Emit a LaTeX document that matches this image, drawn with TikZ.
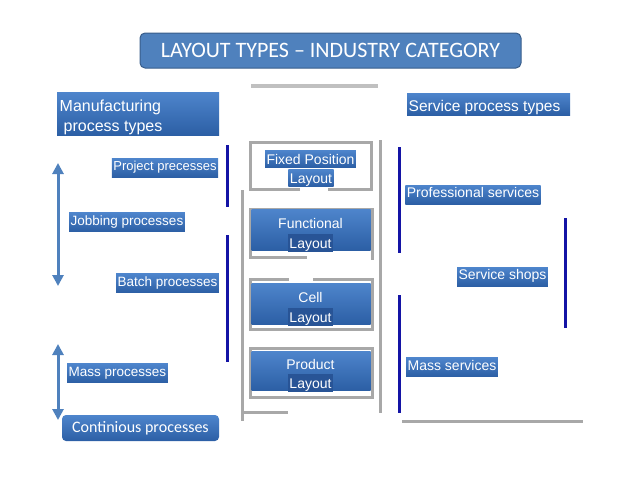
\documentclass[tikz,border=0pt]{standalone}
\usepackage{fontspec}
\setmainfont{Liberation Sans}
\newfontfamily\calibfont[Ligatures=TeX]{Carlito}
\usetikzlibrary{arrows.meta}
\definecolor{boxtop}{RGB}{78,133,204}
\definecolor{boxbot}{RGB}{44,95,165}
\definecolor{titleblue}{RGB}{79,129,189}
\definecolor{titleedge}{RGB}{56,93,138}
\definecolor{navy}{RGB}{20,20,165}
\definecolor{arrblue}{RGB}{79,129,189}
\definecolor{framegray}{RGB}{168,168,168}
\definecolor{linegray}{RGB}{192,192,192}
\definecolor{lay}{RGB}{40,84,150}
\begin{document}
\begin{tikzpicture}[x=1pt,y=-1pt,
  bluebox/.style={top color=boxtop,bottom color=boxbot,draw=none,inner sep=0pt},
  lab/.style={top color=boxtop,bottom color=boxbot,text=white,inner xsep=1.5pt,inner ysep=0pt,minimum height=19pt,text height=9.8pt,text depth=2.9pt,font=\fontsize{13.5}{15}\selectfont},
  ctext/.style={text=white,font=\fontsize{14}{16}\selectfont,inner sep=0pt,anchor=base},
  hl/.style={text=white,font=\fontsize{14}{16}\selectfont,inner xsep=1.5pt,inner ysep=2pt,text height=12pt,text depth=1.5pt,anchor=base},
  frame/.style={draw=framegray,line width=3pt},
  bar/.style={draw=navy,line width=3pt},
  dbl/.style={draw=arrblue,line width=3pt,{Triangle[width=11pt,length=11pt]}-{Triangle[width=11pt,length=11pt]}},
]
\useasboundingbox (0,0) rectangle (638,493);

% title
\node[fill=titleblue,draw=titleedge,line width=1pt,rounded corners=5pt,minimum width=381pt,minimum height=35pt,text=white,font=\calibfont\fontsize{22}{26}\selectfont,inner sep=0pt] (title) at (330.5,50.5) {LAYOUT TYPES \textendash{} INDUSTRY CATEGORY};
\draw[draw=linegray,line width=4pt] (251,86) -- (378,86);

% left header
\node[bluebox,minimum width=162pt,minimum height=43pt] (manuf) at (138,113.5) {};
\node[anchor=base west,text=white,font=\fontsize{16}{20}\selectfont,inner sep=0pt] (manuf1) at (59.5,111.5) {Manufacturing};
\node[anchor=base west,text=white,font=\fontsize{16}{20}\selectfont,inner sep=0pt] (manuf2) at (63.5,131.5) {process types};

% right header
\node[bluebox,minimum width=163pt,minimum height=22pt] (serv) at (488.5,104) {};
\node[anchor=base west,text=white,font=\fontsize{15.5}{18}\selectfont,inner sep=0pt] (servt) at (408.5,111.5) {Service process types};

% left labels
\node[lab,font=\fontsize{13}{15}\selectfont] (proj) at (165,167.5) {Project precesses};
\node[lab] (job) at (127,222) {Jobbing processes};
\node[lab] (batch) at (167.5,283) {Batch processes};
\node[lab] (mass) at (117.5,373) {Mass processes};
\node[top color=boxtop,bottom color=boxbot,rounded corners=4pt,minimum width=157pt,minimum height=26pt,text=white,font=\calibfont\fontsize{16}{19}\selectfont,inner sep=0pt] (cont) at (140.5,428) {Continious processes};

% right labels
\node[lab,font=\fontsize{14}{16}\selectfont] (prof) at (473,194.5) {Professional services};
\node[lab,font=\fontsize{14}{16}\selectfont] (shops) at (502.5,276.5) {Service shops};
\node[lab,font=\fontsize{14}{16}\selectfont] (mserv) at (452,367) {Mass services};

% arrows
\coordinate (a1t) at (58,163);
\coordinate (a1b) at (58,286);
\coordinate (a2t) at (58,344);
\coordinate (a2b) at (58,420);
\draw[dbl] (a1t) -- (a1b);
\draw[dbl] (a2t) -- (a2b);

% navy bars
\draw[bar] (227,145) -- (227,207);
\draw[bar] (227,235) -- (227,362);
\draw[bar] (399,147) -- (399,253);
\draw[bar] (399,295) -- (399,413);
\draw[bar] (565,218) -- (565,328);

% gray lines
\draw[draw=framegray,line width=3pt] (402,421) -- (583,421);
\draw[frame] (242,190) -- (242,421);
\draw[frame] (242,412.5) -- (288,412.5);
\draw[frame] (380,140) -- (380,413);

% fixed position frame
\draw[frame] (300,189) -- (250,189) -- (250,142) -- (371,142) -- (371,189) -- (328,189);
% functional frame
\draw[frame] (307,257) -- (250,257) -- (250,209) -- (372,209) -- (372,260);
% cell frame
\draw[frame] (289,279) -- (250,279) -- (250,329) -- (372,329) -- (372,279) -- (313,279);
% product frame
\draw[frame] (250,348) rectangle (372,397);

% fixed position texts
\node[hl,top color=boxtop,bottom color=boxbot] (fixed) at (310.5,164) {Fixed Position};
\node[hl,top color=boxtop,bottom color=boxbot] (fixedl) at (311,183) {Layout};

% functional
\node[bluebox,minimum width=119pt,minimum height=41pt] (func) at (311,229.5) {};
\node[hl,fill=lay] (funcl) at (310.5,248) {Layout};
\node[ctext] (funct) at (310.5,228) {Functional};

% cell
\node[bluebox,minimum width=119pt,minimum height=41pt] (cell) at (311,303.5) {};
\node[hl,fill=lay] (celll) at (310.5,322) {Layout};
\node[ctext] (cellt) at (310.5,302) {Cell};

% product
\node[bluebox,minimum width=119pt,minimum height=39pt] (prod) at (311,370.5) {};
\node[hl,fill=lay] (prodl) at (310.5,388) {Layout};
\node[ctext] (prodt) at (310.5,369) {Product};
\end{tikzpicture}
\end{document}
